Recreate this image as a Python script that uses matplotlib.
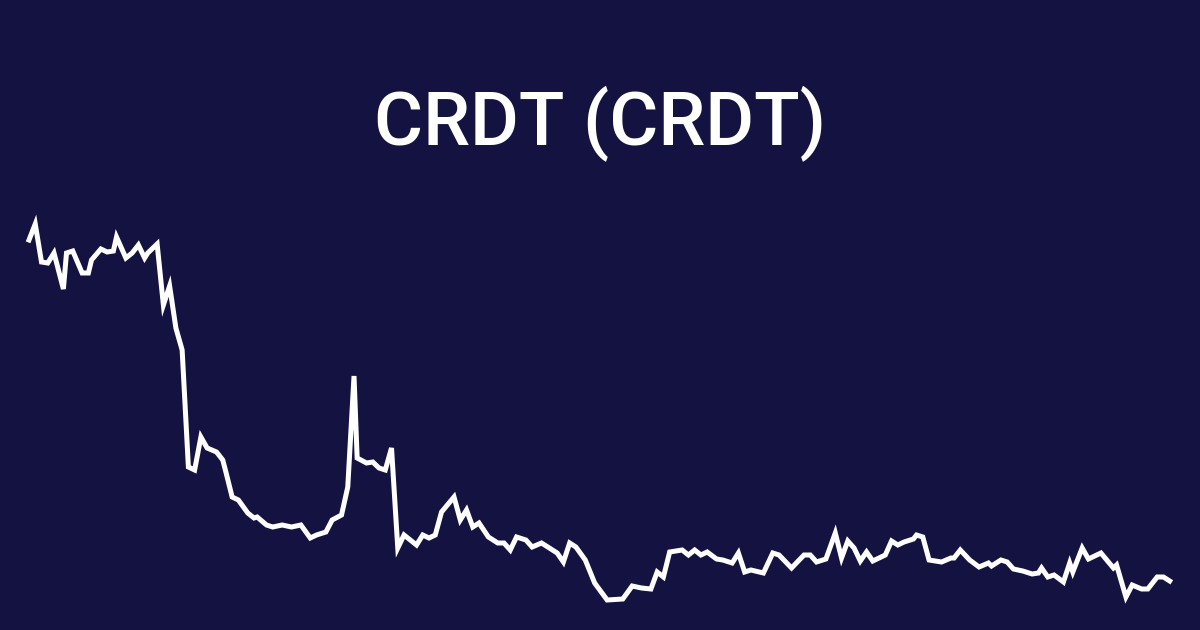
import matplotlib
matplotlib.use("Agg")
import matplotlib.pyplot as plt

# day offsets across one year and closing price
days = [0, 2, 4, 6, 8, 11, 12, 14, 17, 19, 20, 23, 25, 27, 28, 31, 33, 35, 37, 38,
        41, 43, 45, 47, 49, 51, 53, 55, 57, 60, 62, 63, 65, 67, 70, 72, 73, 76, 78, 81,
        84, 87, 90, 92, 95, 97, 100, 102, 104, 105, 108, 110, 112, 114, 116, 118, 120, 124, 126, 128,
        130, 132, 136, 138, 140, 142, 144, 147, 150, 152, 154, 156, 159, 161, 164, 169, 171, 173, 175, 178,
        181, 185, 190, 193, 196, 199, 201, 203, 205, 209, 211, 213, 215, 217, 220, 222, 225, 227, 229, 231,
        235, 238, 240, 244, 248, 250, 252, 255, 258, 260, 262, 264, 266, 268, 270, 274, 276, 278, 280, 283,
        284, 286, 288, 292, 295, 296, 298, 301, 304, 307, 308, 311, 313, 315, 318, 321, 323, 324, 326, 328,
        331, 333, 334, 337, 339, 343, 347, 348, 351, 353, 356, 358, 359, 361, 363, 365]
prices = [1.0, 1.04, 0.945, 0.9425, 0.9675, 0.8775, 0.9675, 0.9725, 0.9175, 0.9175,
          0.95, 0.9775, 0.97, 0.9725, 1.0075, 0.955, 0.9675, 0.9875, 0.955, 0.9675,
          0.99, 0.8375, 0.885, 0.78, 0.725, 0.4325, 0.425, 0.5075, 0.48, 0.47,
          0.45, 0.42, 0.3575, 0.35, 0.3175, 0.305, 0.3075, 0.2875, 0.2825, 0.2875,
          0.2825, 0.2875, 0.255, 0.2625, 0.27, 0.30, 0.3125, 0.3825, 0.66, 0.455,
          0.4425, 0.445, 0.43, 0.425, 0.48, 0.23, 0.2625, 0.2375, 0.2625, 0.255,
          0.2625, 0.32, 0.3575, 0.30, 0.325, 0.2825, 0.2925, 0.2575, 0.2425, 0.2425,
          0.225, 0.2575, 0.25, 0.2325, 0.2425, 0.2175, 0.195, 0.2425, 0.2325, 0.20,
          0.1425, 0.10, 0.1025, 0.135, 0.13, 0.1275, 0.17, 0.1575, 0.22, 0.225,
          0.2125, 0.225, 0.2125, 0.22, 0.2025, 0.20, 0.1925, 0.2175, 0.17, 0.175,
          0.1675, 0.2175, 0.2125, 0.18, 0.2125, 0.2125, 0.195, 0.2025, 0.2675, 0.205,
          0.2475, 0.23, 0.1975, 0.22, 0.1975, 0.2125, 0.2475, 0.2375, 0.245, 0.2525,
          0.2625, 0.2575, 0.20, 0.195, 0.205, 0.205, 0.225, 0.20, 0.1825, 0.1925,
          0.185, 0.20, 0.195, 0.1775, 0.1725, 0.165, 0.1675, 0.18, 0.1575, 0.1625,
          0.145, 0.1925, 0.17, 0.23, 0.2025, 0.2175, 0.18, 0.1875, 0.1075, 0.1375,
          0.1275, 0.1275, 0.1375, 0.1575, 0.1575, 0.1475]

title = "CRDT (CRDT)"
bg = "#141240"

fig = plt.figure(figsize=(12, 6.3), dpi=100, facecolor=bg)
ax = fig.add_axes([0, 0, 1, 1])
ax.set_facecolor(bg)
ax.plot(days, prices, color="white", linewidth=3.6, solid_joinstyle="miter")
ax.set_xlim(-9.28, 374.7)
ax.set_ylim(0.025, 1.6)
ax.axis("off")

fig.text(0.5, 1 - 145 / 630, title, ha="center", va="baseline",
         color="white", fontsize=54, fontfamily="Roboto", fontweight="medium")

fig.savefig("out.png", dpi=100, facecolor=bg)
